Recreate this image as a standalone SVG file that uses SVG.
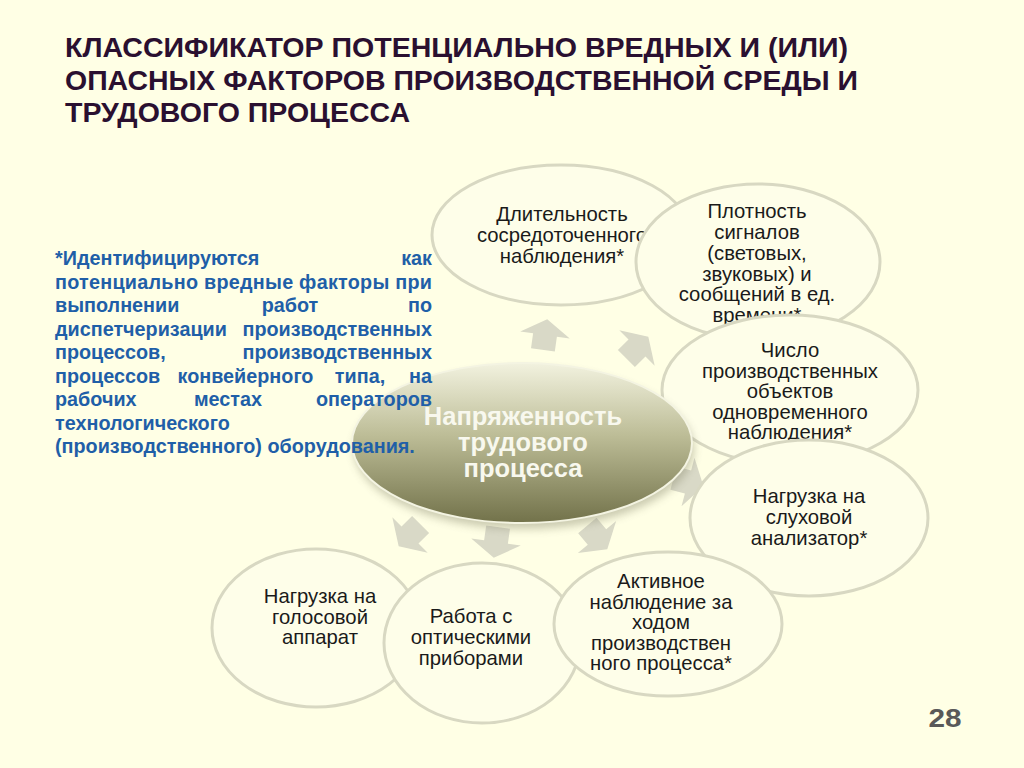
<svg xmlns="http://www.w3.org/2000/svg" width="1024" height="768" viewBox="0 0 1024 768">
<defs>
<style>
.bg{fill:#ffffe5}
.sat{fill:#fefee9;stroke:#d8d8c2;stroke-width:3}
.st{font-family:"Liberation Sans",Arial,sans-serif;font-size:20.3px;fill:#1a1a1a;text-anchor:middle}
.arr{fill:#d9d9c7}
.ttl{font-family:"Liberation Sans",Arial,sans-serif;font-weight:bold;font-size:27px;fill:#2a1030}
.blk{font-family:"Liberation Sans",Arial,sans-serif;font-weight:bold;font-size:19.8px;fill:#1f5fa8}
.ct{font-family:"Liberation Sans",Arial,sans-serif;font-weight:bold;font-size:25.5px;fill:#f8f8ee;text-anchor:middle}
</style>
<linearGradient id="cg" x1="0" y1="0" x2="0" y2="1">
<stop offset="0" stop-color="#f2f2df"/>
<stop offset="0.45" stop-color="#bdbd97"/>
<stop offset="1" stop-color="#72724a"/>
</linearGradient>
<filter id="sh" x="-20%" y="-20%" width="140%" height="150%">
<feGaussianBlur stdDeviation="4"/>
</filter>
<path id="ar" d="M0,-16 L25,0 L12,0 L12,15 L-12,15 L-12,0 L-25,0 Z"/>
</defs>
<rect class="bg" x="0" y="0" width="1024" height="768"/>

<g id="title">
<text class="ttl" x="65" y="57" textLength="783" lengthAdjust="spacingAndGlyphs">КЛАССИФИКАТОР ПОТЕНЦИАЛЬНО ВРЕДНЫХ И (ИЛИ)</text>
<text class="ttl" x="65" y="90" textLength="793" lengthAdjust="spacingAndGlyphs">ОПАСНЫХ ФАКТОРОВ ПРОИЗВОДСТВЕННОЙ СРЕДЫ И</text>
<text class="ttl" x="65" y="122" textLength="345" lengthAdjust="spacingAndGlyphs">ТРУДОВОГО ПРОЦЕССА</text>
</g>

<g id="connectors">
<use href="#ar" class="arr" transform="translate(545,335) rotate(8)"/>
<use href="#ar" class="arr" transform="translate(637,348) rotate(45)"/>
<use href="#ar" class="arr" transform="translate(688,482) rotate(105)"/>
<use href="#ar" class="arr" transform="translate(597,537) rotate(140)"/>
<use href="#ar" class="arr" transform="translate(496,542) rotate(188)"/>
<use href="#ar" class="arr" transform="translate(410,535) rotate(225)"/>
</g>

<g id="n1">
<ellipse class="sat" cx="561" cy="235" rx="129" ry="70"/>
<text class="st"><tspan x="562" y="221">Длительность</tspan><tspan x="562" y="242">сосредоточенного</tspan><tspan x="562" y="263">наблюдения*</tspan></text>
</g>
<g id="n2">
<ellipse class="sat" cx="758" cy="262" rx="122" ry="78"/>
<text class="st"><tspan x="757" y="218">Плотность</tspan><tspan x="757" y="239">сигналов</tspan><tspan x="757" y="260">(световых,</tspan><tspan x="757" y="281">звуковых) и</tspan><tspan x="757" y="301">сообщений в ед.</tspan><tspan x="757" y="322">времени*</tspan></text>
</g>
<g id="n3">
<ellipse class="sat" cx="790" cy="390" rx="128" ry="75"/>
<text class="st"><tspan x="790" y="357">Число</tspan><tspan x="790" y="378">производственных</tspan><tspan x="790" y="398">объектов</tspan><tspan x="790" y="419">одновременного</tspan><tspan x="790" y="439">наблюдения*</tspan></text>
</g>
<g id="n4">
<ellipse class="sat" cx="809" cy="518" rx="119" ry="78"/>
<text class="st"><tspan x="809" y="503">Нагрузка на</tspan><tspan x="809" y="524">слуховой</tspan><tspan x="809" y="545">анализатор*</tspan></text>
</g>
<g id="n7">
<ellipse class="sat" cx="316" cy="628" rx="104" ry="79"/>
<text class="st"><tspan x="320" y="603">Нагрузка на</tspan><tspan x="320" y="624">голосовой</tspan><tspan x="320" y="644">аппарат</tspan></text>
</g>
<g id="n6">
<ellipse class="sat" cx="482" cy="643" rx="98" ry="80"/>
<text class="st"><tspan x="471" y="623">Работа с</tspan><tspan x="471" y="644">оптическими</tspan><tspan x="471" y="665">приборами</tspan></text>
</g>
<g id="n5">
<ellipse class="sat" cx="668" cy="624" rx="114" ry="72"/>
<text class="st"><tspan x="661" y="588">Активное</tspan><tspan x="661" y="609">наблюдение за</tspan><tspan x="661" y="629">ходом</tspan><tspan x="661" y="650">производствен</tspan><tspan x="661" y="670">ного процесса*</tspan></text>
</g>

<g id="center">
<ellipse cx="524" cy="449" rx="170" ry="80" fill="#8a8a70" opacity="0.45" filter="url(#sh)"/>
<ellipse cx="522" cy="443" rx="170" ry="80" style="fill:url(#cg)" stroke="#f4f4e2" stroke-width="2"/>
<text class="ct"><tspan x="523" y="425">Напряженность</tspan><tspan x="523" y="451">трудового</tspan><tspan x="523" y="477">процесса</tspan></text>
</g>

<g id="note">
<text class="blk" x="55" y="265">*Идентифицируются</text>
<text class="blk" x="432" y="265" text-anchor="end">как</text>
<text class="blk" x="55" y="288.5" textLength="377" lengthAdjust="spacing">потенциально вредные факторы при</text>
<text class="blk" x="55" y="312">выполнении</text>
<text class="blk" x="290" y="312" text-anchor="middle">работ</text>
<text class="blk" x="432" y="312" text-anchor="end">по</text>
<text class="blk" x="55" y="335.5">диспетчеризации</text>
<text class="blk" x="432" y="335.5" text-anchor="end">производственных</text>
<text class="blk" x="55" y="359">процессов,</text>
<text class="blk" x="432" y="359" text-anchor="end">производственных</text>
<text class="blk" x="55" y="382.5">процессов</text>
<text class="blk" x="245.5" y="382.5" text-anchor="middle">конвейерного</text>
<text class="blk" x="360" y="382.5" text-anchor="middle">типа,</text>
<text class="blk" x="432" y="382.5" text-anchor="end">на</text>
<text class="blk" x="55" y="406">рабочих</text>
<text class="blk" x="228" y="406" text-anchor="middle">местах</text>
<text class="blk" x="432" y="406" text-anchor="end">операторов</text>
<text class="blk" x="55" y="429.5">технологического</text>
<text class="blk" x="55" y="453">(производственного) оборудования.</text>
</g>

<g id="page">
<text x="945" y="727" text-anchor="middle" textLength="33" lengthAdjust="spacingAndGlyphs" style="font-family:'Liberation Sans',Arial,sans-serif;font-weight:bold;font-size:25px;fill:#595959">28</text>
</g>
</svg>
